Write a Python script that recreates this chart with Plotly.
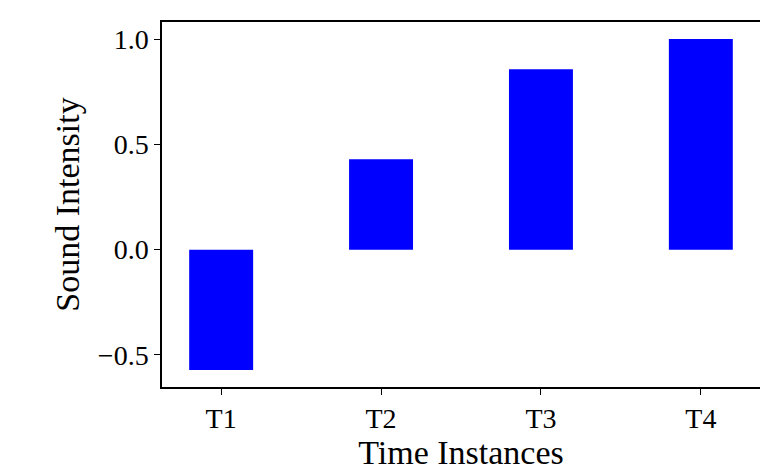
import plotly.graph_objects as go

categories = ["T1", "T2", "T3", "T4"]
intensity = [-0.571, 0.429, 0.857, 1.0]
y_ticks = [-0.5, 0.0, 0.5, 1.0]
y_tick_labels = ["\u22120.5", "0.0", "0.5", "1.0"]

fig = go.Figure(go.Bar(x=categories, y=intensity, width=0.4,
                       marker=dict(color="blue", line=dict(width=0))))

axis_common = dict(showline=True, linecolor="black", linewidth=1.5, mirror=True,
                   ticks="outside", ticklen=6, tickwidth=1.2, tickcolor="black",
                   showgrid=False, zeroline=False, automargin=False,
                   tickfont=dict(size=28))
fig.update_xaxes(range=[-0.37, 3.37], title=dict(text="Time Instances", standoff=6),
                 **axis_common)
fig.update_yaxes(range=[-0.652, 1.081], tickvals=y_ticks, ticktext=y_tick_labels,
                 title=dict(text="Sound Intensity", standoff=8), **axis_common)
fig.update_layout(width=768, height=474, margin=dict(l=154, r=16, t=14, b=95),
                  plot_bgcolor="white", paper_bgcolor="white", showlegend=False,
                  font=dict(family="Liberation Serif", size=28, color="black"))
fig.write_html("out.html")
